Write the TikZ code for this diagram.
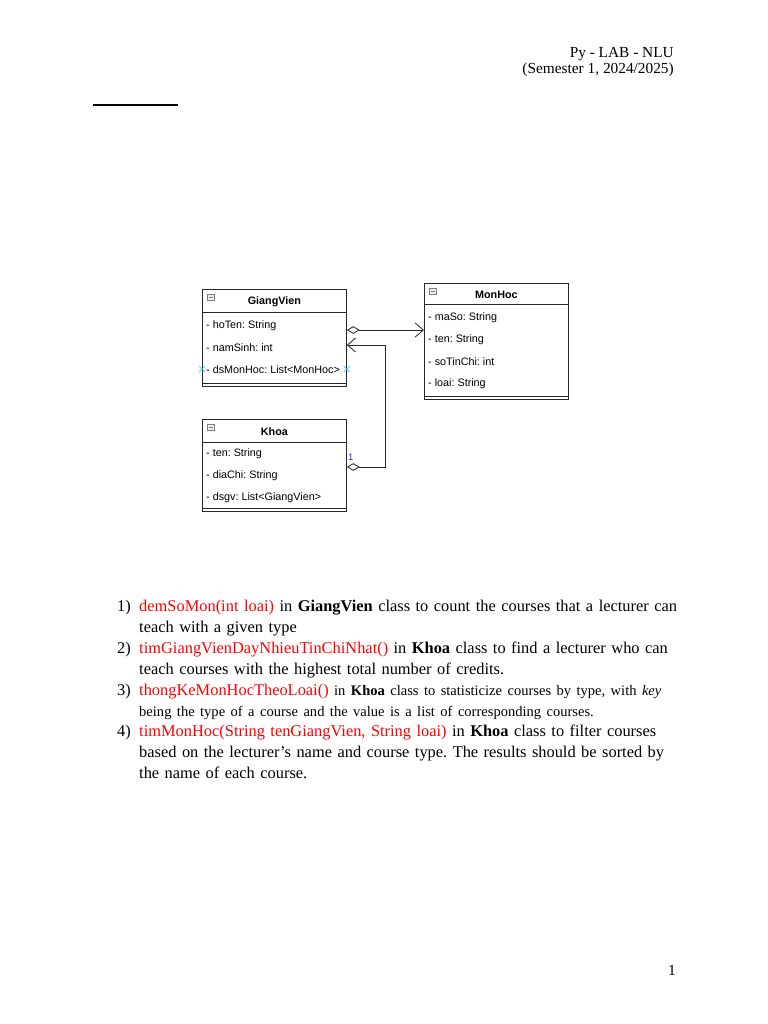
\documentclass[tikz,border=0pt]{standalone}
\usepackage{fontspec}
\setmainfont{Liberation Serif}
\newfontfamily\umlfont{Liberation Sans}
\usetikzlibrary{positioning,calc,arrows.meta}
\frenchspacing

\definecolor{umlline}{RGB}{40,40,40}
\definecolor{linkblue}{RGB}{20,60,170}
\definecolor{handle}{RGB}{40,190,235}

\tikzset{
  classbox/.style={draw=umlline, line width=0.7pt, anchor=north west, inner sep=0pt, minimum width=4.32cm},
  classname/.style={font=\umlfont\bfseries\fontsize{9.2}{10}\selectfont, inner sep=0pt},
  attr/.style={anchor=west, font=\umlfont\fontsize{9.2}{10}\selectfont, inner sep=0pt},
  sepline/.style={draw=umlline, line width=0.6pt},
  icon/.style={draw=gray, fill=gray!15, line width=0.4pt},
  aggr/.style={draw=umlline, line width=0.7pt, {Diamond[open,length=11pt,width=6.5pt]}-{Straight Barb[length=7pt,width=12pt]}},
  selmark/.style={text=handle, inner sep=0pt, font=\normalsize\boldmath},
  numlbl/.style={anchor=base east, inner sep=0pt, font=\fontsize{14}{17.85}\selectfont},
  itemtext/.style={anchor=base west, inner sep=0pt, text width=17cm, align=left, font=\fontsize{14}{17.85}\selectfont},
  hdr/.style={anchor=base east, inner sep=0pt, font=\fontsize{13.1}{15}\selectfont}
}

\begin{document}
\begin{tikzpicture}[x=0.03cm, y=-0.03cm]
  \useasboundingbox (0,0) rectangle (768,1024);

  % page header
  \node[hdr] (lab) at (674,57) {Py - LAB - NLU};
  \node[hdr] (sem) at (674,73.5) {(Semester 1, 2024/2025)};
  \draw[line width=1.3pt] (93,105) -- (178,105);

  % GiangVien class
  \node[classbox, minimum height=2.91cm] (gv) at (202,289) {};
  \draw[icon] ($(gv.north west)+(5,5)$) rectangle ($(gv.north west)+(12,11)$);
  \draw[gray] ($(gv.north west)+(6.5,8)$) -- ($(gv.north west)+(10.5,8)$);
  \node[classname] (gvname) at ($(gv.north)+(0,12.5)$) {GiangVien};
  \draw[sepline] ($(gv.north west)+(0,23)$) -- ($(gv.north east)+(0,23)$);
  \node[attr] (gvhoten) at ($(gv.north west)+(4,36.5)$) {- hoTen: String};
  \node[attr] (gvnam) at ($(gv.north west)+(4,58.5)$) {- namSinh: int};
  \node[attr] (gvds) at ($(gv.north west)+(4,80.5)$) {- dsMonHoc: List<MonHoc>};
  \draw[sepline] ($(gv.south west)+(0,-3)$) -- ($(gv.south east)+(0,-3)$);
  \node[selmark] (h1) at (gv.west |- gvds) {$\times$};
  \node[selmark] (h2) at (gv.east |- gvds) {$\times$};

  % MonHoc class
  \node[classbox, minimum height=3.48cm] (mh) at (424,283) {};
  \draw[icon] ($(mh.north west)+(5,5)$) rectangle ($(mh.north west)+(12,11)$);
  \draw[gray] ($(mh.north west)+(6.5,8)$) -- ($(mh.north west)+(10.5,8)$);
  \node[classname] (mhname) at ($(mh.north)+(0,12)$) {MonHoc};
  \draw[sepline] ($(mh.north west)+(0,21.5)$) -- ($(mh.north east)+(0,21.5)$);
  \node[attr] (mhmaso) at ($(mh.north west)+(4,34.5)$) {- maSo: String};
  \node[attr] (mhten) at ($(mh.north west)+(4,56.5)$) {- ten: String};
  \node[attr] (mhtc) at ($(mh.north west)+(4,78.5)$) {- soTinChi: int};
  \node[attr] (mhloai) at ($(mh.north west)+(4,100.5)$) {- loai: String};
  \draw[sepline] ($(mh.south west)+(0,-3)$) -- ($(mh.south east)+(0,-3)$);

  % Khoa class
  \node[classbox, minimum height=2.76cm] (kh) at (202,419) {};
  \draw[icon] ($(kh.north west)+(5,5)$) rectangle ($(kh.north west)+(12,11)$);
  \draw[gray] ($(kh.north west)+(6.5,8)$) -- ($(kh.north west)+(10.5,8)$);
  \node[classname] (khname) at ($(kh.north)+(0,13)$) {Khoa};
  \draw[sepline] ($(kh.north west)+(0,23)$) -- ($(kh.north east)+(0,23)$);
  \node[attr] (khten) at ($(kh.north west)+(4,35)$) {- ten: String};
  \node[attr] (khdc) at ($(kh.north west)+(4,57)$) {- diaChi: String};
  \node[attr] (khds) at ($(kh.north west)+(4,79)$) {- dsgv: List<GiangVien>};
  \draw[sepline] ($(kh.south west)+(0,-3)$) -- ($(kh.south east)+(0,-3)$);

  % Associations
  \draw[aggr] ($(gv.north east)+(0,41)$) -- ($(mh.north west)+(0,47)$);
  \draw[aggr] ($(kh.north east)+(0,48)$) -| ($(gv.north east)+(39,56)$) -- ($(gv.north east)+(0,56)$);
  \node[text=linkblue, font=\umlfont\fontsize{8}{9}\selectfont, inner sep=0pt] (mult) at ($(kh.north east)+(4,38)$) {1};

  % Tasks
  \node[numlbl] (n1) at (131,611.5) {1)};
  \node[itemtext] (it1) at (139,611.5) {\textcolor{red}{demSoMon(int loai)} in \textbf{GiangVien} class to count the courses that a lecturer can\\teach with a given type};
  \node[numlbl] (n2) at (131,653.5) {2)};
  \node[itemtext] (it2) at (139,653.5) {\textcolor{red}{timGiangVienDayNhieuTinChiNhat()} in \textbf{Khoa} class to find a lecturer who can\\teach courses with the highest total number of credits.};
  \node[numlbl] (n3) at (131,695.5) {3)};
  \node[itemtext] (it3) at (139,695.5) {\textcolor{red}{thongKeMonHocTheoLoai()} \fontsize{12.4}{20}\selectfont in \textbf{Khoa} class to statisticize courses by type, with \textit{key}\\being the type of a course and the value is a list of corresponding courses.};
  \node[numlbl] (n4) at (131,736.5) {4)};
  \node[itemtext] (it4) at (139,736.5) {\textcolor{red}{timMonHoc(String tenGiangVien, String loai)} in \textbf{Khoa} class to filter courses\\based on the lecturer’s name and course type. The results should be sorted by\\the name of each course.};

  % page number
  \node[hdr] (pg) at (676,975) {1};
\end{tikzpicture}
\end{document}
